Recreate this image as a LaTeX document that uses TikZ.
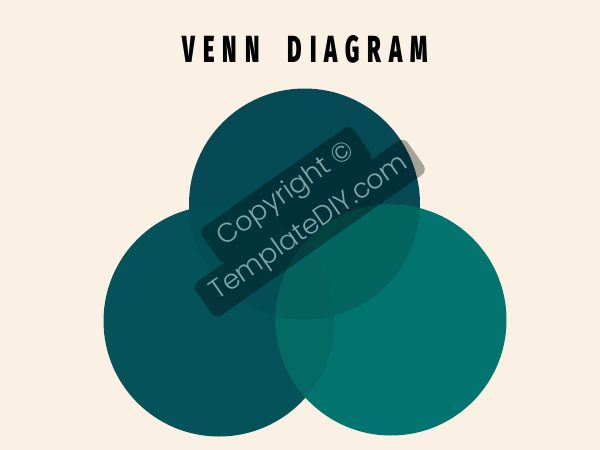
\documentclass[tikz,border=0pt]{standalone}
\usepackage{fontspec}
\usepackage{graphicx}
\newfontfamily\titlefont{Fira Sans Black}
\newfontfamily\wmfont{Poppins Light}
\definecolor{bgc}{HTML}{FAF1E4}
\definecolor{ctop}{HTML}{054A55}
\definecolor{cleft}{HTML}{04525A}
\definecolor{cright}{HTML}{02746F}
\definecolor{ctl}{HTML}{044E58}
\definecolor{ctr}{HTML}{04645F}
\definecolor{clr}{HTML}{036A66}
\definecolor{ctlr}{HTML}{04615E}
\definecolor{wmtext}{HTML}{7FA6A8}
\pgfdeclarelayer{front}
\pgfsetlayers{main,front}
\newcommand{\tkk}{\kern0.36em}
\begin{document}
\begin{tikzpicture}[x=1pt,y=-1pt,
  venn/.style={circle, minimum size=231pt, inner sep=0pt, draw=none},
  wmline/.style={text=wmtext, font=\wmfont\fontsize{27}{27}\selectfont, inner xsep=12pt, inner ysep=7pt, rotate=35, anchor=base}]
\fill[bgc] (0,0) rectangle (600,450);
\useasboundingbox (0,0) rectangle (600,450);
\node[inner sep=0pt] (title) at (305.5,49.5) {\resizebox{245pt}{27pt}{\titlefont V\tkk E\tkk N\tkk N\kern1.3em D\tkk I\tkk A\tkk G\tkk R\tkk A\tkk M}};
\coordinate (cT) at (304.5,204);
\coordinate (cL) at (219,321);
\coordinate (cR) at (391,320);
\node[venn, fill=ctop] (top) at (cT) {};
\node[venn, fill=cleft] (left) at (cL) {};
\node[venn, fill=cright] (right) at (cR) {};
\begin{scope}
  \clip (cT) circle (115.5);
  \fill[ctl] (cL) circle (115.5);
  \fill[ctr] (cR) circle (115.5);
\end{scope}
\begin{scope}
  \clip (cL) circle (115.5);
  \fill[clr] (cR) circle (115.5);
  \clip (cT) circle (115.5);
  \fill[ctlr] (cR) circle (115.5);
\end{scope}
\begin{pgfonlayer}{front}
\node[wmline] (wm1) at (290,200) {Copyright ©};
\node[wmline] (wm2) at (313.5,233.5) {TemplateDIY.com};
\end{pgfonlayer}
\fill[black, fill opacity=0.33, rounded corners=7pt]
  (wm1.north west) -- (wm1.north east) -- (wm1.south east) -- (wm1.south west) -- cycle
  (wm2.north west) -- (wm2.north east) -- (wm2.south east) -- (wm2.south west) -- cycle;
\end{tikzpicture}
\end{document}
